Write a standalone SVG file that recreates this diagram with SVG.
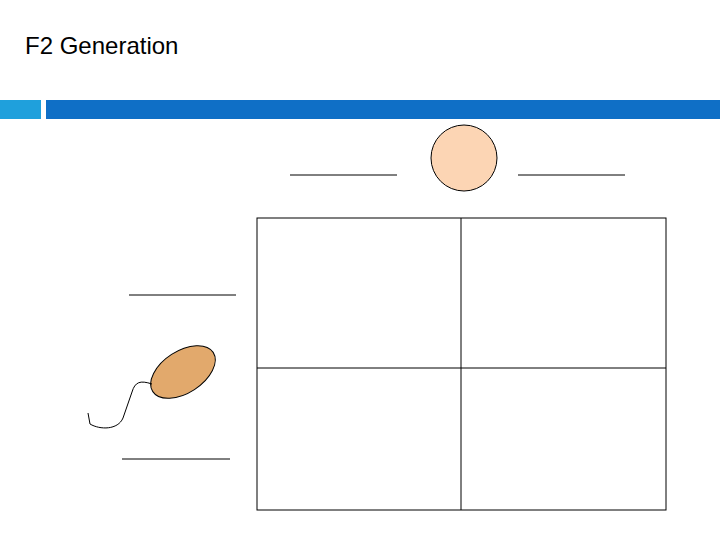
<svg xmlns="http://www.w3.org/2000/svg" width="720" height="540" viewBox="0 0 720 540">
<style>.l{stroke:#000;stroke-width:1;fill:none}</style>
<rect width="720" height="540" fill="#fff"/>
<text x="25" y="54" font-family="Liberation Sans, Arial, sans-serif" font-size="24">F2 Generation</text>
<rect x="0" y="100" width="41" height="19" fill="#1fa0dc"/>
<rect x="46" y="100" width="674" height="19" fill="#0f6fc6"/>
<g id="egg"><circle cx="464" cy="158" r="33" fill="#fcd5b4" stroke="#000"/></g>
<g id="sperm">
<ellipse cx="183" cy="372" rx="36" ry="21" transform="rotate(-33 183 372)" fill="#e2a96c" stroke="#000"/>
<path class="l" d="M152,384 C140,380 135,382 132,392 L123,418 C118,430 100,430 90,424 L88,413"/>
</g>
<g id="blanks" class="l">
<line x1="290" y1="175" x2="397" y2="175"/>
<line x1="518" y1="175" x2="625" y2="175"/>
<line x1="129" y1="295" x2="236" y2="295"/>
<line x1="122" y1="459" x2="230" y2="459"/>
</g>
<g id="punnett" class="l">
<rect x="257" y="218" width="409" height="292"/>
<line x1="461" y1="218" x2="461" y2="510"/>
<line x1="257" y1="368" x2="666" y2="368"/>
</g>
</svg>
